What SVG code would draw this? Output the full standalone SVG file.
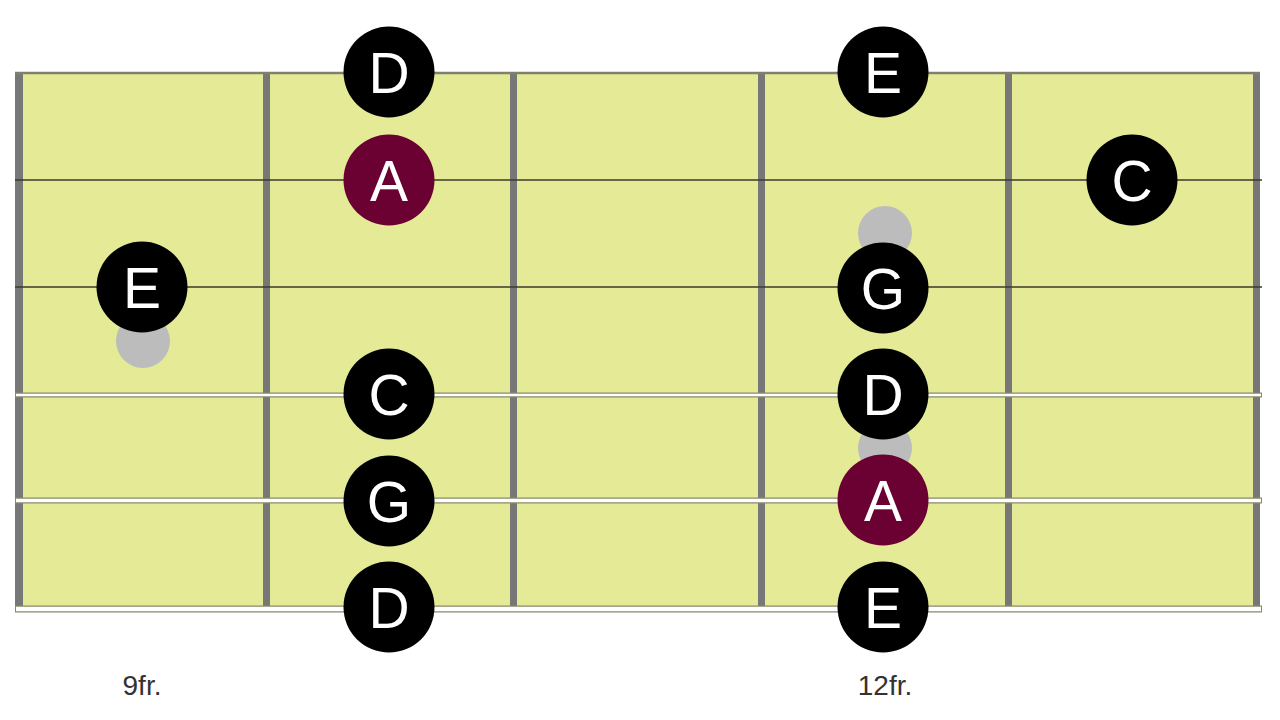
<svg xmlns="http://www.w3.org/2000/svg" width="1280" height="720" viewBox="0 0 1280 720">
<style>
.fret{fill:#777777}
.thin{stroke:#3a3a2a;stroke-width:1.5}
.wout{stroke:#8a8a6a}
.win{stroke:#ffffff}
.note{fill:#000000}
.root{fill:#6b0032}
.ghost{fill:#bcbcbc}
.lbl{font-family:"Liberation Sans",Arial,sans-serif;font-size:57px;fill:#ffffff;text-anchor:middle}
.fr{font-family:"Liberation Sans",Arial,sans-serif;font-size:28px;fill:#333333;text-anchor:middle}
</style>
<rect width="1280" height="720" fill="#ffffff"/>
<g id="fretboard">
<rect x="15" y="73" width="1245" height="535" fill="#e4ea96"/>
<rect class="fret" x="15" y="73" width="8" height="535"/>
<rect class="fret" x="263" y="73" width="7" height="535"/>
<rect class="fret" x="510" y="73" width="7" height="535"/>
<rect class="fret" x="758" y="73" width="7" height="535"/>
<rect class="fret" x="1005" y="73" width="7" height="535"/>
<rect class="fret" x="1253" y="73" width="7" height="535"/>
<line x1="15" y1="73" x2="1260" y2="73" stroke="#808070" stroke-width="2.5"/>
<line class="thin" x1="15" y1="180" x2="1262" y2="180"/>
<line class="thin" x1="15" y1="287" x2="1262" y2="287"/>
<line class="wout" x1="15" y1="395" x2="1262" y2="395" stroke-width="5"/>
<line class="win" x1="16" y1="395" x2="1261" y2="395" stroke-width="2.5"/>
<line class="wout" x1="15" y1="500.5" x2="1262" y2="500.5" stroke-width="6"/>
<line class="win" x1="16" y1="500.5" x2="1261" y2="500.5" stroke-width="3.5"/>
<line class="wout" x1="15" y1="609" x2="1262" y2="609" stroke-width="7"/>
<line class="win" x1="16" y1="609" x2="1261" y2="609" stroke-width="4.5"/>
</g>
<g id="connectors"></g>
<g id="ghost-1"><circle class="ghost" cx="143" cy="341" r="27"/></g>
<g id="ghost-2"><circle class="ghost" cx="885" cy="233" r="27"/></g>
<g id="ghost-3"><circle class="ghost" cx="885" cy="448" r="27"/></g>
<g id="note-E-9fr"><circle class="note" cx="142" cy="287" r="45.5"/><text class="lbl" x="142" y="308">E</text></g>
<g id="note-D-top"><circle class="note" cx="389" cy="72" r="45.5"/><text class="lbl" x="389" y="93">D</text></g>
<g id="note-A-left"><circle class="root" cx="389" cy="180" r="45.5"/><text class="lbl" x="389" y="201">A</text></g>
<g id="note-C-left"><circle class="note" cx="389" cy="394" r="45.5"/><text class="lbl" x="389" y="415">C</text></g>
<g id="note-G-left"><circle class="note" cx="389" cy="501" r="45.5"/><text class="lbl" x="389" y="522">G</text></g>
<g id="note-D-bottom"><circle class="note" cx="389" cy="607" r="45.5"/><text class="lbl" x="389" y="628">D</text></g>
<g id="note-E-top"><circle class="note" cx="883" cy="72" r="45.5"/><text class="lbl" x="883" y="93">E</text></g>
<g id="note-C-right"><circle class="note" cx="1132" cy="180" r="45.5"/><text class="lbl" x="1132" y="201">C</text></g>
<g id="note-G-right"><circle class="note" cx="883" cy="288" r="45.5"/><text class="lbl" x="883" y="309">G</text></g>
<g id="note-D-right"><circle class="note" cx="883" cy="394" r="45.5"/><text class="lbl" x="883" y="415">D</text></g>
<g id="note-A-right"><circle class="root" cx="883" cy="500" r="45.5"/><text class="lbl" x="883" y="521">A</text></g>
<g id="note-E-bottom"><circle class="note" cx="883" cy="607" r="45.5"/><text class="lbl" x="883" y="628">E</text></g>
<g id="labels">
<text class="fr" x="142" y="695">9fr.</text>
<text class="fr" x="885" y="695">12fr.</text>
</g>
</svg>
